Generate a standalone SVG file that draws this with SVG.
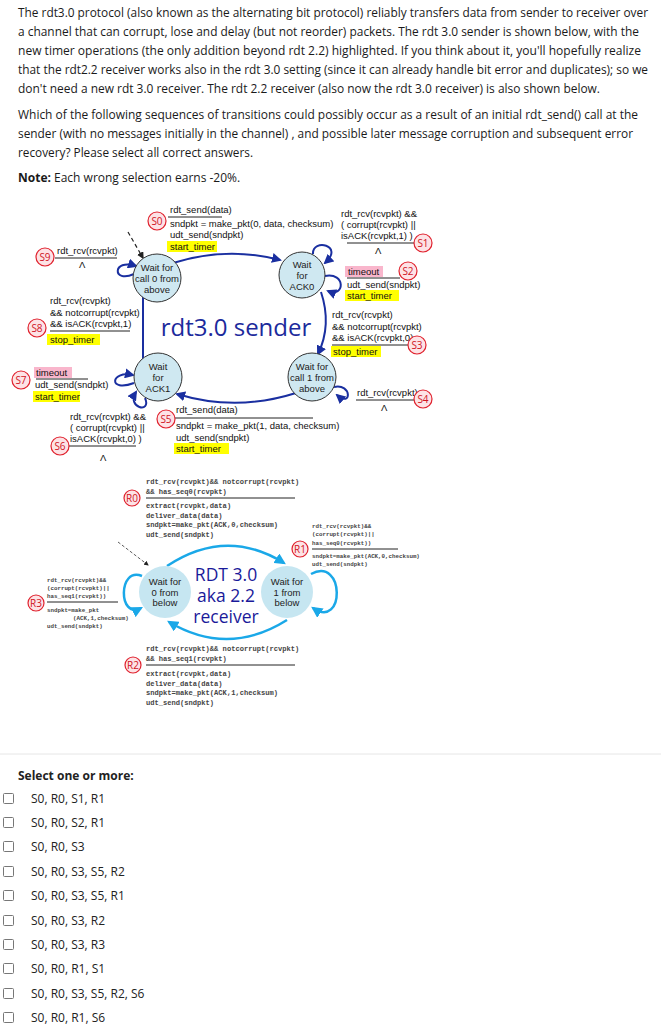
<svg xmlns="http://www.w3.org/2000/svg" width="661" height="1024" viewBox="0 0 661 1024">
<defs>
<marker id="ad" viewBox="0 0 10 10" refX="8" refY="5" markerWidth="5" markerHeight="5" orient="auto"><path d="M0,0 L10,5 L0,10 z" fill="#1a2fa0"/></marker>
<marker id="al" viewBox="0 0 10 10" refX="8" refY="5" markerWidth="4.5" markerHeight="4.5" orient="auto"><path d="M0,0 L10,5 L0,10 z" fill="#1aa8e8"/></marker>
<marker id="ak" viewBox="0 0 10 10" refX="8" refY="5" markerWidth="6" markerHeight="6" orient="auto"><path d="M0,0 L10,5 L0,10 z" fill="#222"/></marker>
</defs>
<style>
.p{font-family:"Open Sans","Noto Sans",sans-serif;font-size:12px;fill:#1a1a1a}
.s{font-family:"Liberation Sans",Arial,sans-serif;font-size:9.5px;fill:#111}
.st{fill:#cfe8f1;stroke:#333;stroke-width:1}
.sl{font-family:"Liberation Sans",Arial,sans-serif;font-size:9.5px;fill:#222;text-anchor:middle}
.rc{fill:#fde3e6;stroke:#e0222e;stroke-width:1.2}
.rt{font-family:"Open Sans","Noto Sans",sans-serif;font-size:10px;fill:#d0141e;text-anchor:middle}
.ln{stroke:#222;stroke-width:1}
.e{fill:none;stroke:#1a2fa0;stroke-width:2}
.el{fill:none;stroke:#1aa8e8;stroke-width:2.5}
.y{fill:#ffff00}
.k{fill:#f9b6cc}
.m{font-family:"Liberation Mono","DejaVu Sans Mono",monospace;font-size:7.1px;font-weight:bold;fill:#444}
.m2{font-family:"Liberation Mono","DejaVu Sans Mono",monospace;font-size:5.8px;font-weight:bold;fill:#444}
.rs{fill:#c6e6f1}
.o{font-family:"Open Sans","Noto Sans",sans-serif;font-size:12px;fill:#222}
.cb{fill:#fff;stroke:#777;stroke-width:1}
</style>
<rect width="661" height="1024" fill="#fff"/>
<g id="question">
<text class="p" x="18" y="17" textLength="630" lengthAdjust="spacingAndGlyphs">The rdt3.0 protocol (also known as the alternating bit protocol) reliably transfers data from sender to receiver over</text>
<text class="p" x="18" y="36" textLength="621" lengthAdjust="spacingAndGlyphs">a channel that can corrupt, lose and delay (but not reorder) packets. The rdt 3.0 sender is shown below, with the</text>
<text class="p" x="18" y="55" textLength="623" lengthAdjust="spacingAndGlyphs">new timer operations (the only addition beyond rdt 2.2) highlighted.  If you think about it, you'll hopefully realize</text>
<text class="p" x="18" y="74" textLength="630" lengthAdjust="spacingAndGlyphs">that the rdt2.2 receiver works also in the rdt 3.0 setting (since it can already handle bit error and duplicates); so we</text>
<text class="p" x="18" y="93" textLength="582" lengthAdjust="spacingAndGlyphs">don't need a new rdt 3.0 receiver.  The rdt 2.2 receiver (also now the rdt 3.0 receiver) is also shown below.</text>
<text class="p" x="18" y="119" textLength="620" lengthAdjust="spacingAndGlyphs">Which of the following sequences of transitions could possibly occur as a result of an initial rdt_send() call at the</text>
<text class="p" x="18" y="138" textLength="615" lengthAdjust="spacingAndGlyphs">sender (with no messages initially in the channel) , and possible later message corruption and subsequent error</text>
<text class="p" x="18" y="157" textLength="235" lengthAdjust="spacingAndGlyphs">recovery? Please select all correct answers.</text>
<text class="p" x="18" y="182"><tspan font-weight="bold">Note:</tspan> Each wrong selection earns -20%.</text>
</g>
<g id="sender-connectors">
<path class="e" d="M173,263 Q227,246 280,260" marker-end="url(#ad)"/>
<path class="e" d="M321,292 Q332,325 318,354" marker-end="url(#ad)"/>
<path class="e" d="M296,393 Q236,412 177,394" marker-end="url(#ad)"/>
<path class="e" d="M143,360 L143,296"/>
<path class="e" d="M134,274 C112,284 112,258 136,266" marker-end="url(#ad)"/>
<path class="e" d="M313,254 C312,238 345,245 325,263" marker-end="url(#ad)"/>
<path class="e" d="M325,276 C346,272 345,298 328,291" marker-end="url(#ad)"/>
<path class="e" d="M334,387 C352,383 352,408 337,395" marker-end="url(#ad)"/>
<path class="e" d="M134,383 C108,393 110,370 133,375" marker-end="url(#ad)"/>
<path class="e" d="M145,398 C152,414 126,408 136,392" marker-end="url(#ad)"/>
<path d="M128,232 L143,258" stroke="#222" stroke-width="1.2" stroke-dasharray="4,3" fill="none" marker-end="url(#ak)"/>
</g>
<g id="sender-states">
<circle class="st" cx="157" cy="278" r="24"/>
<text class="sl" x="157" y="271">Wait for</text><text class="sl" x="157" y="282">call 0 from</text><text class="sl" x="157" y="293">above</text>
<circle class="st" cx="302" cy="275" r="23"/>
<text class="sl" x="302" y="268">Wait</text><text class="sl" x="302" y="279">for</text><text class="sl" x="302" y="290">ACK0</text>
<circle class="st" cx="158" cy="377" r="24"/>
<text class="sl" x="158" y="370">Wait</text><text class="sl" x="158" y="381">for</text><text class="sl" x="158" y="392">ACK1</text>
<circle class="st" cx="312" cy="377" r="24"/>
<text class="sl" x="312" y="370">Wait for</text><text class="sl" x="312" y="381">call 1 from</text><text class="sl" x="312" y="392">above</text>
<text x="236" y="336" font-family="'Open Sans','Noto Sans',sans-serif" font-size="24" fill="#1c2a9c" text-anchor="middle">rdt3.0 sender</text>
</g>
<g id="sender-labels">
<text class="s" x="170" y="213">rdt_send(data)</text><line class="ln" x1="168" y1="217" x2="222" y2="217"/>
<text class="s" x="170" y="227">sndpkt = make_pkt(0, data, checksum)</text>
<text class="s" x="170" y="238">udt_send(sndpkt)</text>
<rect class="y" x="167" y="241" width="50" height="11"/><text class="s" x="170" y="250">start_timer</text>
<circle class="rc" cx="157" cy="221" r="9"/><text class="rt" x="157" y="225">S0</text>

<text class="s" x="57" y="254">rdt_rcv(rcvpkt)</text><line class="ln" x1="55" y1="258" x2="117" y2="258"/><text class="s" x="79" y="268">Λ</text>
<circle class="rc" cx="45" cy="257" r="9"/><text class="rt" x="45" y="261">S9</text>

<text class="s" x="341" y="217">rdt_rcv(rcvpkt) &amp;&amp;</text>
<text class="s" x="341" y="228">( corrupt(rcvpkt) ||</text>
<text class="s" x="341" y="239">isACK(rcvpkt,1) )</text>
<line class="ln" x1="347" y1="243" x2="415" y2="243"/><text class="s" x="375" y="254">Λ</text>
<circle class="rc" cx="423" cy="243" r="9"/><text class="rt" x="423" y="247">S1</text>

<rect class="k" x="345" y="266" width="38" height="11"/><text class="s" x="348" y="275">timeout</text>
<line class="ln" x1="347" y1="278" x2="400" y2="278"/>
<text class="s" x="347" y="288">udt_send(sndpkt)</text>
<rect class="y" x="345" y="290" width="54" height="11"/><text class="s" x="347" y="299">start_timer</text>
<circle class="rc" cx="408" cy="271" r="9"/><text class="rt" x="408" y="275">S2</text>

<text class="s" x="332" y="318">rdt_rcv(rcvpkt)</text>
<text class="s" x="332" y="330">&amp;&amp; notcorrupt(rcvpkt)</text>
<text class="s" x="332" y="341">&amp;&amp; isACK(rcvpkt,0)</text>
<line class="ln" x1="332" y1="345" x2="408" y2="345"/>
<rect class="y" x="331" y="346" width="50" height="11"/><text class="s" x="333" y="355">stop_timer</text>
<circle class="rc" cx="417" cy="345" r="9"/><text class="rt" x="417" y="349">S3</text>

<text class="s" x="357" y="396">rdt_rcv(rcvpkt)</text><line class="ln" x1="356" y1="400" x2="415" y2="400"/><text class="s" x="381" y="411">Λ</text>
<circle class="rc" cx="423" cy="399" r="9"/><text class="rt" x="423" y="403">S4</text>

<text class="s" x="176" y="413">rdt_send(data)</text><line class="ln" x1="175" y1="418" x2="313" y2="418"/>
<text class="s" x="176" y="429">sndpkt = make_pkt(1, data, checksum)</text>
<text class="s" x="176" y="441">udt_send(sndpkt)</text>
<rect class="y" x="174" y="443" width="55" height="11"/><text class="s" x="176" y="452">start_timer</text>
<circle class="rc" cx="166" cy="419" r="9"/><text class="rt" x="166" y="423">S5</text>

<text class="s" x="70" y="420">rdt_rcv(rcvpkt) &amp;&amp;</text>
<text class="s" x="70" y="431">( corrupt(rcvpkt) ||</text>
<text class="s" x="70" y="442">isACK(rcvpkt,0) )</text>
<line class="ln" x1="68" y1="446" x2="136" y2="446"/><text class="s" x="100" y="461">Λ</text>
<circle class="rc" cx="60" cy="446" r="9"/><text class="rt" x="60" y="450">S6</text>

<rect class="k" x="34" y="367" width="38" height="11"/><text class="s" x="36" y="376">timeout</text>
<line class="ln" x1="36" y1="379" x2="88" y2="379"/>
<text class="s" x="35" y="388">udt_send(sndpkt)</text>
<rect class="y" x="33" y="391" width="47" height="11"/><text class="s" x="35" y="400">start_timer</text>
<circle class="rc" cx="21" cy="380" r="9"/><text class="rt" x="21" y="384">S7</text>

<text class="s" x="50" y="304">rdt_rcv(rcvpkt)</text>
<text class="s" x="50" y="316">&amp;&amp; notcorrupt(rcvpkt)</text>
<text class="s" x="50" y="327">&amp;&amp; isACK(rcvpkt,1)</text>
<line class="ln" x1="50" y1="331" x2="130" y2="331"/>
<rect class="y" x="47" y="334" width="53" height="11"/><text class="s" x="50" y="343">stop_timer</text>
<circle class="rc" cx="37" cy="328" r="9"/><text class="rt" x="37" y="332">S8</text>
</g>
<g id="receiver-connectors">
<path class="el" d="M167,566 Q226,527 284,563" marker-end="url(#al)"/>
<path class="el" d="M287,620 Q228,657 169,622" marker-end="url(#al)"/>
<path class="el" d="M311,574 C345,556 345,630 313,608" marker-end="url(#al)"/>
<path class="el" d="M142,576 C118,566 118,620 141,608" marker-end="url(#al)"/>
<path d="M118,542 L148,565" stroke="#333" stroke-width="0.8" stroke-dasharray="3,2" fill="none" marker-end="url(#ak)"/>
</g>
<g id="receiver-states">
<circle class="rs" cx="165" cy="592" r="26"/>
<text class="sl" x="165" y="585">Wait for</text><text class="sl" x="165" y="596">0 from</text><text class="sl" x="165" y="606">below</text>
<circle class="rs" cx="287" cy="592" r="26"/>
<text class="sl" x="287" y="585">Wait for</text><text class="sl" x="287" y="596">1 from</text><text class="sl" x="287" y="606">below</text>
<g font-family="'Open Sans','Noto Sans',sans-serif" font-size="17.5" fill="#1a1a9a" text-anchor="middle">
<text x="226" y="581">RDT 3.0</text><text x="226" y="602">aka 2.2</text><text x="226" y="623">receiver</text></g>
</g>
<g id="receiver-labels">
<text class="m" x="146" y="484">rdt_rcv(rcvpkt)&amp;&amp; notcorrupt(rcvpkt)</text>
<text class="m" x="146" y="494">&amp;&amp; has_seq0(rcvpkt)</text>
<line class="ln" x1="146" y1="498" x2="295" y2="498" stroke="#555"/>
<text class="m" x="146" y="508">extract(rcvpkt,data)</text>
<text class="m" x="146" y="518">deliver_data(data)</text>
<text class="m" x="146" y="527">sndpkt=make_pkt(ACK,0,checksum)</text>
<text class="m" x="146" y="537">udt_send(sndpkt)</text>
<circle class="rc" cx="132" cy="498" r="8"/><text class="rt" x="132" y="502">R0</text>

<text class="m2" x="312" y="528">rdt_rcv(rcvpkt)&amp;&amp;</text>
<text class="m2" x="312" y="536">(corrupt(rcvpkt)||</text>
<text class="m2" x="312" y="545">has_seq0(rcvpkt))</text>
<line class="ln" x1="312" y1="549" x2="398" y2="549" stroke="#555" stroke-width="0.7"/>
<text class="m2" x="312" y="558">sndpkt=make_pkt(ACK,0,checksum)</text>
<text class="m2" x="312" y="566">udt_send(sndpkt)</text>
<circle class="rc" cx="300" cy="549" r="8"/><text class="rt" x="300" y="553">R1</text>

<text class="m" x="146" y="651">rdt_rcv(rcvpkt)&amp;&amp; notcorrupt(rcvpkt)</text>
<text class="m" x="146" y="661">&amp;&amp; has_seq1(rcvpkt)</text>
<line class="ln" x1="146" y1="665" x2="295" y2="665" stroke="#555"/>
<text class="m" x="146" y="676">extract(rcvpkt,data)</text>
<text class="m" x="146" y="686">deliver_data(data)</text>
<text class="m" x="146" y="695">sndpkt=make_pkt(ACK,1,checksum)</text>
<text class="m" x="146" y="705">udt_send(sndpkt)</text>
<circle class="rc" cx="133" cy="665" r="8"/><text class="rt" x="133" y="669">R2</text>

<text class="m2" x="47" y="582">rdt_rcv(rcvpkt)&amp;&amp;</text>
<text class="m2" x="47" y="590">(corrupt(rcvpkt)||</text>
<text class="m2" x="47" y="598">has_seq1(rcvpkt))</text>
<line class="ln" x1="47" y1="602" x2="118" y2="602" stroke="#555" stroke-width="0.7"/>
<text class="m2" x="47" y="612">sndpkt=make_pkt</text>
<text class="m2" x="73" y="620">(ACK,1,checksum)</text>
<text class="m2" x="47" y="628">udt_send(sndpkt)</text>
<circle class="rc" cx="36" cy="603" r="8"/><text class="rt" x="36" y="607">R3</text>
</g>
<g id="answers">
<line x1="0" y1="754" x2="661" y2="754" stroke="#e6e6e6" stroke-width="1"/>
<text class="o" x="18" y="780" font-weight="bold">Select one or more:</text>
<rect class="cb" x="3.5" y="793.5" width="10" height="10" rx="1"/><text class="o" x="31" y="803">S0, R0, S1, R1</text>
<rect class="cb" x="3.5" y="817.5" width="10" height="10" rx="1"/><text class="o" x="31" y="827">S0, R0, S2, R1</text>
<rect class="cb" x="3.5" y="841.5" width="10" height="10" rx="1"/><text class="o" x="31" y="851">S0, R0, S3</text>
<rect class="cb" x="3.5" y="866.5" width="10" height="10" rx="1"/><text class="o" x="31" y="876">S0, R0, S3, S5, R2</text>
<rect class="cb" x="3.5" y="890.5" width="10" height="10" rx="1"/><text class="o" x="31" y="900">S0, R0, S3, S5, R1</text>
<rect class="cb" x="3.5" y="915.5" width="10" height="10" rx="1"/><text class="o" x="31" y="925">S0, R0, S3, R2</text>
<rect class="cb" x="3.5" y="939.5" width="10" height="10" rx="1"/><text class="o" x="31" y="949">S0, R0, S3, R3</text>
<rect class="cb" x="3.5" y="963.5" width="10" height="10" rx="1"/><text class="o" x="31" y="973">S0, R0, R1, S1</text>
<rect class="cb" x="3.5" y="988.5" width="10" height="10" rx="1"/><text class="o" x="31" y="998">S0, R0, S3, S5, R2, S6</text>
<rect class="cb" x="3.5" y="1012.5" width="10" height="10" rx="1"/><text class="o" x="31" y="1022">S0, R0, R1, S6</text>
</g>
</svg>
